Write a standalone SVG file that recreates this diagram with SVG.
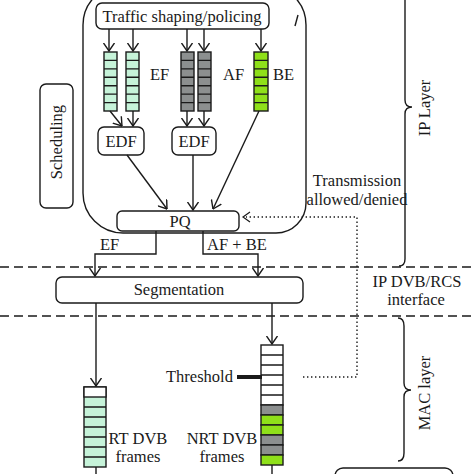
<svg xmlns="http://www.w3.org/2000/svg" width="474" height="474" viewBox="0 0 474 474">
<defs>
<marker id="arr" viewBox="0 0 9 12" refX="8.5" refY="6" markerWidth="9" markerHeight="12" markerUnits="userSpaceOnUse" orient="auto">
<path d="M0.5,0.5 L8.5,6 L0.5,11.5" fill="none" stroke="#1a1a1a" stroke-width="1.4"/>
</marker>
</defs>
<style>
text{font-family:"Liberation Serif","Times New Roman",serif;font-size:16.5px;fill:#1a1a1a}
.box{fill:#fff;stroke:#1a1a1a;stroke-width:1.4}
.ln{fill:none;stroke:#1a1a1a;stroke-width:1.4}
.ar{fill:none;stroke:#1a1a1a;stroke-width:1.4;marker-end:url(#arr)}
.q{stroke:#1a1a1a;stroke-width:1.4}
.ef{fill:#c6f3d9}
.af{fill:#8c8f8f}
.be{fill:#8fe01a}
.wh{fill:#fff}
.dash{fill:none;stroke:#1a1a1a;stroke-width:1.5;stroke-dasharray:9 5}
.dot{fill:none;stroke:#1a1a1a;stroke-width:1.4;stroke-dasharray:1.4 2.6}
.mid{text-anchor:middle}
</style>

<g id="iplayer-boundary">
<path class="ln" d="M123,-15 L266,-15 A40,40 0 0 1 306,25 L306,203 A30,30 0 0 1 276,233 L123,233 A40,40 0 0 1 83,193 L83,25 A40,40 0 0 1 123,-15 Z"/>
<path class="ln" d="M298,15 L295,26"/>
</g>

<g id="traffic-shaping">
<rect class="box" x="96" y="3" width="173" height="26" rx="6"/>
<text class="mid" x="182" y="22">Traffic shaping/policing</text>
</g>

<g id="scheduling">
<rect class="box" x="40" y="84" width="33" height="124" rx="6"/>
<text class="mid" transform="translate(62,142) rotate(-90)">Scheduling</text>
</g>

<g id="ef-queues">
<rect class="q ef" x="104" y="52" width="13" height="59"/>
<path class="q" d="M104,60.4H117M104,68.9H117M104,77.3H117M104,85.7H117M104,94.1H117M104,102.6H117"/>
<rect class="q ef" x="126" y="52" width="13" height="59"/>
<path class="q" d="M126,60.4H139M126,68.9H139M126,77.3H139M126,85.7H139M126,94.1H139M126,102.6H139"/>
<text x="150" y="80">EF</text>
</g>

<g id="af-queues">
<rect class="q af" x="181" y="52" width="13" height="59"/>
<path class="q" d="M181,60.4H194M181,68.9H194M181,77.3H194M181,85.7H194M181,94.1H194M181,102.6H194"/>
<rect class="q af" x="198" y="52" width="13" height="59"/>
<path class="q" d="M198,60.4H211M198,68.9H211M198,77.3H211M198,85.7H211M198,94.1H211M198,102.6H211"/>
<text x="223" y="80">AF</text>
</g>

<g id="be-queue">
<rect class="q be" x="254" y="52" width="14" height="59"/>
<path class="q" d="M254,60.4H268M254,68.9H268M254,77.3H268M254,85.7H268M254,94.1H268M254,102.6H268"/>
<text x="273" y="80">BE</text>
</g>

<g id="edf-ef">
<rect class="box" x="98" y="127" width="46" height="28" rx="6"/>
<text class="mid" x="121" y="147">EDF</text>
</g>
<g id="edf-af">
<rect class="box" x="172" y="127" width="44" height="28" rx="6"/>
<text class="mid" x="194" y="147">EDF</text>
</g>

<g id="pq">
<rect class="box" x="117" y="211" width="122" height="20" rx="5"/>
<text class="mid" x="180" y="227">PQ</text>
</g>

<g id="segmentation">
<rect class="box" x="56" y="277" width="247" height="26" rx="6"/>
<text class="mid" x="179" y="295">Segmentation</text>
</g>

<g id="rt-queue">
<rect class="q ef" x="84" y="387" width="22" height="80"/>
<rect class="q wh" x="84" y="387" width="22" height="10"/>
<path class="q" d="M84,407H106M84,417H106M84,427H106M84,437H106M84,447H106M84,457H106"/>
<text class="mid" x="138" y="444">RT DVB</text>
<text class="mid" x="138" y="462">frames</text>
</g>

<g id="nrt-queue">
<rect class="q wh" x="261" y="345" width="22" height="60"/>
<path class="q" d="M261,355H283M261,365H283M261,375H283M261,385H283M261,395H283"/>
<rect class="q af" x="261" y="405" width="22" height="10"/>
<rect class="q be" x="261" y="415" width="22" height="10"/>
<rect class="q be" x="261" y="425" width="22" height="10"/>
<rect class="q af" x="261" y="435" width="22" height="10"/>
<rect class="q af" x="261" y="445" width="22" height="10"/>
<rect class="q be" x="261" y="455" width="22" height="10"/>
<text class="mid" x="222" y="444">NRT DVB</text>
<text class="mid" x="222" y="462">frames</text>
</g>

<g id="threshold">
<text x="166" y="382">Threshold</text>
<path d="M237,377H262" stroke="#1a1a1a" stroke-width="4"/>
</g>

<g id="transmission-label">
<text class="mid" x="357" y="186">Transmission</text>
<text class="mid" x="357" y="205">allowed/denied</text>
</g>

<g id="interface-label">
<text class="mid" x="417" y="287">IP DVB/RCS</text>
<text class="mid" x="416" y="305">interface</text>
</g>

<g id="ip-layer-brace">
<path class="ln" d="M399,-12 Q405,-12 405,-4 L405,100 Q405,107 412,107 Q405,107 405,114 L405,259 Q405,266 399,266"/>
<text class="mid" transform="translate(430,108) rotate(-90)">IP Layer</text>
</g>

<g id="mac-layer-brace">
<path class="ln" d="M398,318 Q404,318 404,326 L404,383 Q404,390 411,390 Q404,390 404,397 L404,453 Q404,461 398,461"/>
<text class="mid" transform="translate(430,393) rotate(-90)">MAC layer</text>
</g>

<g id="bottom-box">
<rect class="box" x="335" y="468" width="118" height="24" rx="8"/>
</g>

<g id="layer-separators">
<path class="dash" d="M0,267H474"/>
<path class="dash" d="M0,316H474"/>
</g>

<g id="connectors">
<path class="ar" d="M109,29V51"/>
<path class="ar" d="M133,29V51"/>
<path class="ar" d="M187,29V51"/>
<path class="ar" d="M204,29V51"/>
<path class="ar" d="M261,29V51"/>
<path class="ar" d="M110,111L122,126"/>
<path class="ar" d="M133,111V126"/>
<path class="ar" d="M187,111V126"/>
<path class="ar" d="M204,111V126"/>
<path class="ar" d="M127,155L167,209"/>
<path class="ar" d="M193,155V210"/>
<path class="ar" d="M259,111L213,209"/>
<path class="ar" d="M156,231V254H95V276"/>
<path class="ar" d="M203,231V254H258V276"/>
<text x="100" y="250">EF</text>
<text x="207" y="250">AF + BE</text>
<path class="ar" d="M96,303V386"/>
<path class="ar" d="M272,303V344"/>
<path class="ln" d="M96,467V474"/>
<path class="ln" d="M272,465V474"/>
<path class="dot" d="M303,377H357V217H246"/>
<path d="M250,212L243,217L250,222" fill="none" stroke="#1a1a1a" stroke-width="1.2"/>
</g>
</svg>
